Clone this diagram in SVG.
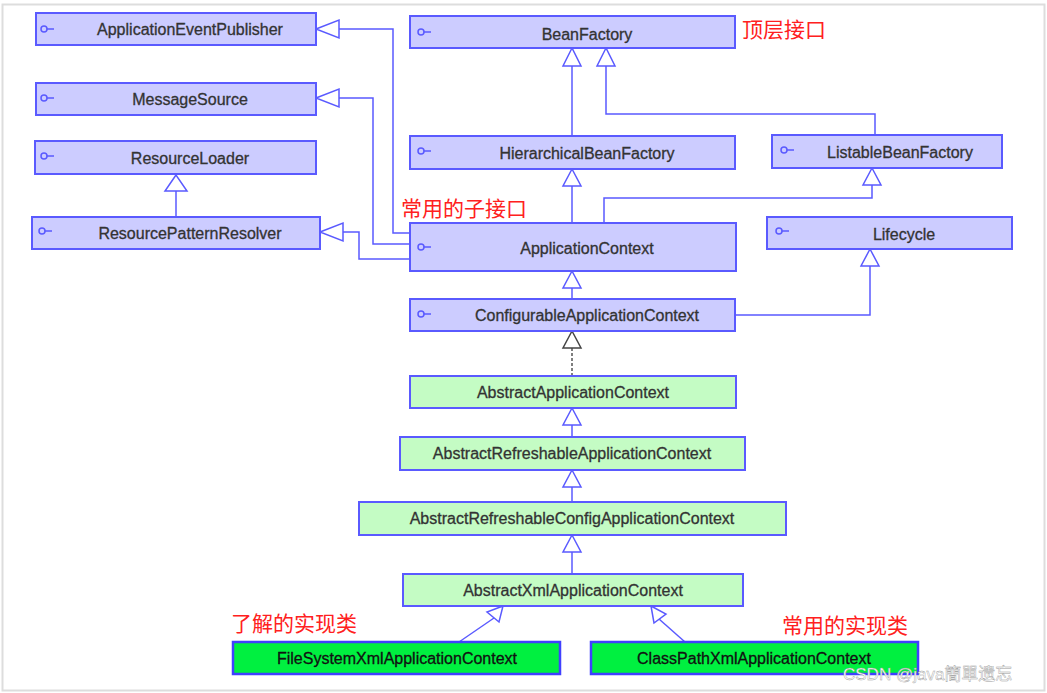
<svg xmlns="http://www.w3.org/2000/svg" width="1047" height="693" viewBox="0 0 1047 693">
<defs>
<style>
.i{fill:#ccccff;stroke:#5a5aff;stroke-width:2}
.a{fill:#c4fcc4;stroke:#5a5aff;stroke-width:2}
.c{fill:#00f040;stroke:#4040ff;stroke-width:2.5}
.t{font-family:"Liberation Sans",Arial,sans-serif;font-size:16px;fill:#333;stroke:#333;stroke-width:0.3;text-anchor:middle}
.r{font-family:"Noto Sans CJK SC",sans-serif;font-size:21px;fill:#ff2020}
.k{fill:none;stroke:#5a5aff;stroke-width:1.5}
.e{fill:#fff;stroke:#5a5aff;stroke-width:1.5}
</style>
<g id="ico"><circle cx="-4" cy="0" r="3" fill="none" stroke="#5a5aff" stroke-width="1.5"/><line x1="-1" y1="0" x2="6" y2="0" stroke="#5a5aff" stroke-width="1.5"/></g>
</defs>
<rect x="0" y="0" width="1047" height="693" fill="#fff"/>
<rect x="2.5" y="4.5" width="1042" height="686" fill="none" stroke="#ddd" stroke-width="2"/>
<g id="connectors">
<path class="k" d="M339,29H393V233H410"/><path class="e" d="M316,29L339,20V38Z"/>
<path class="k" d="M339,98H373V244H410"/><path class="e" d="M316,98L339,89V107Z"/>
<path class="k" d="M343,232H359V259H410"/><path class="e" d="M320,232L343,223V241Z"/>
<path class="k" d="M176,191V217"/><path class="e" d="M176,175L165,191H187Z"/>
<path class="k" d="M572,66V136"/><path class="e" d="M572,48L563,66H581Z"/>
<path class="k" d="M606,66V114H875V135"/><path class="e" d="M606,48L597,66H615Z"/>
<path class="k" d="M572,186V223"/><path class="e" d="M572,169L563,186H581Z"/>
<path class="k" d="M604,223V198H872V185"/><path class="e" d="M872,168L863,185H881Z"/>
<path class="k" d="M572,288V299"/><path class="e" d="M572,271L563,288H581Z"/>
<path class="k" d="M735,315H870V266"/><path class="e" d="M870,249L861,266H879Z"/>
<path d="M572,348V376" fill="none" stroke="#555" stroke-width="1.5" stroke-dasharray="3,2"/><path d="M572,331L563,348H581Z" fill="#fff" stroke="#444" stroke-width="1.5"/>
<path class="k" d="M572,425V437"/><path class="e" d="M572,408L563,425H581Z"/>
<path class="k" d="M572,487V502"/><path class="e" d="M572,470L563,487H581Z"/>
<path class="k" d="M572,552V574"/><path class="e" d="M572,535L563,552H581Z"/>
<path class="k" d="M494,618L459,642"/><path class="e" d="M503,606L487,612L499,622Z"/>
<path class="k" d="M659,619L685,642"/><path class="e" d="M651,606L654,623L666,614Z"/>
</g>
<g id="n-aep"><rect class="i" x="36" y="13" width="280" height="32"/><use href="#ico" x="48" y="29"/><text class="t" x="190" y="35">ApplicationEventPublisher</text></g>
<g id="n-ms"><rect class="i" x="36" y="83" width="280" height="32"/><use href="#ico" x="48" y="98"/><text class="t" x="190" y="105">MessageSource</text></g>
<g id="n-rl"><rect class="i" x="35" y="141" width="281" height="33"/><use href="#ico" x="48" y="156"/><text class="t" x="190" y="164">ResourceLoader</text></g>
<g id="n-rpr"><rect class="i" x="32" y="217" width="288" height="32"/><use href="#ico" x="46" y="231"/><text class="t" x="190" y="239">ResourcePatternResolver</text></g>
<g id="n-bf"><rect class="i" x="410" y="16" width="325" height="32"/><use href="#ico" x="425" y="32"/><text class="t" x="587" y="40">BeanFactory</text></g>
<g id="n-hbf"><rect class="i" x="410" y="136" width="325" height="33"/><use href="#ico" x="425" y="151"/><text class="t" x="587" y="159">HierarchicalBeanFactory</text></g>
<g id="n-lbf"><rect class="i" x="772" y="135" width="230" height="33"/><use href="#ico" x="788" y="150"/><text class="t" x="900" y="158">ListableBeanFactory</text></g>
<g id="n-ac"><rect class="i" x="410" y="223" width="326" height="48" stroke-width="3"/><use href="#ico" x="425" y="247"/><text class="t" x="587" y="254">ApplicationContext</text></g>
<g id="n-lc"><rect class="i" x="767" y="217" width="245" height="32"/><use href="#ico" x="783" y="231"/><text class="t" x="904" y="240">Lifecycle</text></g>
<g id="n-cac"><rect class="i" x="410" y="299" width="325" height="32"/><use href="#ico" x="425" y="314"/><text class="t" x="587" y="321">ConfigurableApplicationContext</text></g>
<g id="n-aac"><rect class="a" x="410" y="376" width="326" height="32"/><text class="t" x="573" y="398">AbstractApplicationContext</text></g>
<g id="n-arac"><rect class="a" x="400" y="437" width="345" height="33"/><text class="t" x="572" y="459">AbstractRefreshableApplicationContext</text></g>
<g id="n-arcac"><rect class="a" x="359" y="502" width="427" height="33"/><text class="t" x="572" y="524">AbstractRefreshableConfigApplicationContext</text></g>
<g id="n-axac"><rect class="a" x="403" y="574" width="340" height="32"/><text class="t" x="573" y="596">AbstractXmlApplicationContext</text></g>
<g id="n-fs"><rect class="c" x="233" y="642" width="327" height="32"/><text class="t" x="397" y="664" style="fill:#111;stroke:#111">FileSystemXmlApplicationContext</text></g>
<g id="n-cp"><rect class="c" x="591" y="642" width="327" height="32"/><text class="t" x="754" y="664" style="fill:#111;stroke:#111">ClassPathXmlApplicationContext</text></g>
<text class="r" x="742" y="37">顶层接口</text>
<text class="r" x="401" y="216">常用的子接口</text>
<text class="r" x="231" y="631">了解的实现类</text>
<text class="r" x="782" y="633">常用的实现类</text>
<text x="843" y="680" style="font-family:'Liberation Sans','Noto Sans CJK SC',sans-serif;font-size:17px;fill:#fff;stroke:#999;stroke-width:0.4">CSDN @java簡單遗忘</text>
</svg>
